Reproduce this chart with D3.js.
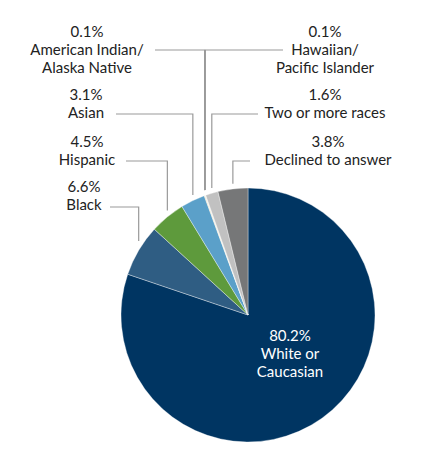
<!DOCTYPE html>
<html>
<head>
<meta charset="utf-8">
<script src="https://cdn.jsdelivr.net/npm/d3@7"></script>
<style>
  body { margin: 0; background: #fff; }
  text { font-family: Lato, "Open Sans", sans-serif; font-size: 15px; fill: #222; }
</style>
</head>
<body>
<div id="chart"></div>
<script>
var categories = ["White or Caucasian", "Black", "Hispanic", "Asian",
                  "American Indian/ Alaska Native", "Hawaiian/ Pacific Islander",
                  "Two or more races", "Declined to answer"],
    values = [80.2, 6.6, 4.5, 3.1, 0.1, 0.1, 1.6, 3.8],
    colors = ["#003562", "#2f5d83", "#5e9a3c", "#5ba0c9", "#ded3a8", "#f0ece0", "#c1c1c1", "#767778"];

// label lines for each outside slice (text rows), and where its block sits
var labelLines = {
    1: ["6.6%", "Black"],
    2: ["4.5%", "Hispanic"],
    3: ["3.1%", "Asian"],
    4: ["0.1%", "American Indian/", "Alaska Native"],
    5: ["0.1%", "Hawaiian/", "Pacific Islander"],
    6: ["1.6%", "Two or more races"],
    7: ["3.8%", "Declined to answer"]
};
// [text centre x, first baseline y, leader start x, leader y]
var labelPos = {
    1: [84, 192, 110, 207],
    2: [87, 147, 126, 161],
    3: [86, 100, 116, 114],
    4: [87, 37, 155, 50],
    5: [325, 37, 283, 50],
    6: [325, 100, 258, 114],
    7: [328, 147, 250, 161]
};

var svg = d3.select("#chart").append("svg")
    .attr("width", 425)
    .attr("height", 459);

var cx = 248, cy = 315, r = 127;
var g = svg.append("g").attr("transform", "translate(" + cx + "," + cy + ")");

var pie = d3.pie().sort(null).value(function (d) { return d; });
var arc = d3.arc().innerRadius(0).outerRadius(r);
var arcs = pie(values);

g.selectAll("path.slice")
    .data(arcs)
    .enter().append("path")
    .attr("class", "slice")
    .attr("d", arc)
    .attr("fill", function (d, i) { return colors[i]; })
    .attr("stroke", "rgba(255,255,255,0.45)")
    .attr("stroke-width", 0.8);

// leader lines + labels
arcs.forEach(function (d, i) {
    if (!labelLines[i]) return;
    var mid = (d.startAngle + d.endAngle) / 2;
    var lx = r * Math.sin(mid);
    var endY = -Math.sqrt(Math.pow(r + 5, 2) - lx * lx);
    var p = labelPos[i];
    var ly = p[3] - cy;
    g.append("path")
        .attr("d", "M" + (p[2] - cx) + "," + ly + "H" + lx + "V" + endY)
        .attr("fill", "none")
        .attr("stroke", "#9a9a9a")
        .attr("stroke-width", 1.2);
    labelLines[i].forEach(function (t, k) {
        svg.append("text")
            .attr("x", p[0])
            .attr("y", p[1] + k * 18)
            .attr("text-anchor", "middle")
            .text(t);
    });
});

// inside label for the main slice
["80.2%", "White or", "Caucasian"].forEach(function (t, k) {
    svg.append("text")
        .attr("x", 290)
        .attr("y", 341 + k * 18)
        .attr("text-anchor", "middle")
        .style("fill", "#fff")
        .text(t);
});
</script>
</body>
</html>
